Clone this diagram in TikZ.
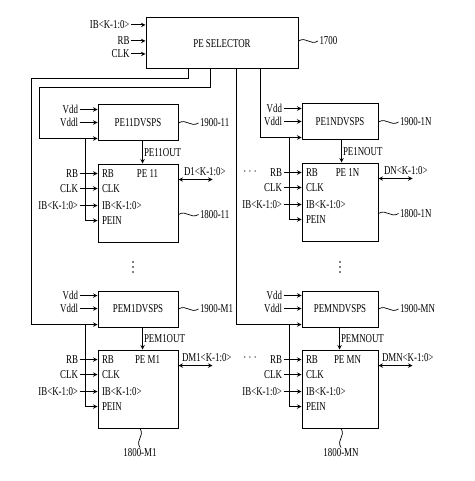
\documentclass[tikz,border=0pt]{standalone}
\usepackage{fontspec}
\setmainfont{Liberation Serif}[FakeStretch=0.74]
\usepackage{tikz}
\usetikzlibrary{arrows, positioning}
\tikzstyle{block} = [rectangle, minimum width=80pt, minimum height=36pt, inner sep=0pt, text centered, draw=black]
\tikzstyle{peblock} = [rectangle, minimum width=80pt, minimum height=78pt, inner sep=0pt, draw=black]
\tikzstyle{arrow} = [->,>=stealth]
\tikzstyle{bus} = [<->,>=stealth]
\tikzstyle{lbl} = [inner sep=1pt]
\tikzstyle{leader} = [line width=0.7pt]
\tikzset{
  font={\fontsize{12pt}{13}\selectfont}}

\begin{document}
\begin{tikzpicture}[x=1pt, y=-1pt, line width=1pt]
    \useasboundingbox (0,0) rectangle (474,481);

    % selector
    \node (sel) [block, minimum width=152pt, minimum height=51pt] at (222,43.5) {PE SELECTOR};
    \node (selib) [lbl, anchor=east] at (131,25) {IB<K-1:0>};
    \node (selrb) [lbl, anchor=east] at (131,41) {RB};
    \node (selclk) [lbl, anchor=east] at (131,54) {CLK};
    \node (n1700) [lbl, anchor=west] at (318,41) {1700};
    \draw [arrow] (selib.east) -- (selib.east -| sel.west);
    \draw [arrow] (selrb.east) -- (selrb.east -| sel.west);
    \draw [arrow] (selclk.east) -- (selclk.east -| sel.west);
    \draw [leader] (sel.east |- n1700.west) .. controls +(8,-5) and +(-8,5) .. (n1700.west);

    % PE 11
    \node (dv11) [block] at (138,123) {PE11DVSPS};
    \node (pe11) [peblock, below=22pt of dv11] {};
    \node (t11) [lbl] at ([xshift=50pt,yshift=-10pt]pe11.north west) {PE 11};
    \node (vdd11) [lbl, anchor=east] at ([xshift=-18pt,yshift=-5pt]dv11.north west) {Vdd};
    \node (vddl11) [lbl, anchor=east] at ([xshift=-18pt,yshift=-18pt]dv11.north west) {Vddl};
    \node (rb11) [lbl, anchor=east] at ([xshift=-18pt,yshift=-10pt]pe11.north west) {RB};
    \node (clk11) [lbl, anchor=east] at ([xshift=-18pt,yshift=-25pt]pe11.north west) {CLK};
    \node (ib11) [lbl, anchor=east] at ([xshift=-18pt,yshift=-42pt]pe11.north west) {IB<K-1:0>};
    \node (irb11) [lbl, anchor=west] at ([xshift=3pt,yshift=-10pt]pe11.north west) {RB};
    \node (iclk11) [lbl, anchor=west] at ([xshift=3pt,yshift=-25pt]pe11.north west) {CLK};
    \node (iib11) [lbl, anchor=west] at ([xshift=3pt,yshift=-42pt]pe11.north west) {IB<K-1:0>};
    \node (pein11) [lbl, anchor=west] at ([xshift=3pt,yshift=-57pt]pe11.north west) {PEIN};
    \node (o11) [lbl, anchor=west] at ([xshift=45pt,yshift=-11pt]dv11.south west) {PE11OUT};
    \node (d11) [lbl, anchor=south west] at ([xshift=4pt,yshift=-14pt]pe11.north east) {D1<K-1:0>};
    \node (n1900a) [lbl, anchor=west] at ([xshift=20pt]dv11.east) {1900-11};
    \node (n1800a) [lbl, anchor=west] at ([xshift=20pt,yshift=-51pt]pe11.north east) {1800-11};
    \coordinate (d11e) at ([xshift=34pt,yshift=-16pt]pe11.north east);

    % PE 1N
    \node (dv1n) [block, minimum width=76pt] at (340,122) {PE1NDVSPS};
    \node (pe1n) [peblock, minimum width=76pt, below=22pt of dv1n] {};
    \node (t1n) [lbl] at ([xshift=46pt,yshift=-10pt]pe1n.north west) {PE 1N};
    \node (vdd1n) [lbl, anchor=east] at ([xshift=-18pt,yshift=-5pt]dv1n.north west) {Vdd};
    \node (vddl1n) [lbl, anchor=east] at ([xshift=-18pt,yshift=-18pt]dv1n.north west) {Vddl};
    \node (rb1n) [lbl, anchor=east] at ([xshift=-18pt,yshift=-10pt]pe1n.north west) {RB};
    \node (clk1n) [lbl, anchor=east] at ([xshift=-18pt,yshift=-25pt]pe1n.north west) {CLK};
    \node (ib1n) [lbl, anchor=east] at ([xshift=-18pt,yshift=-42pt]pe1n.north west) {IB<K-1:0>};
    \node (irb1n) [lbl, anchor=west] at ([xshift=3pt,yshift=-10pt]pe1n.north west) {RB};
    \node (iclk1n) [lbl, anchor=west] at ([xshift=3pt,yshift=-25pt]pe1n.north west) {CLK};
    \node (iib1n) [lbl, anchor=west] at ([xshift=3pt,yshift=-42pt]pe1n.north west) {IB<K-1:0>};
    \node (pein1n) [lbl, anchor=west] at ([xshift=3pt,yshift=-57pt]pe1n.north west) {PEIN};
    \node (o1n) [lbl, anchor=west] at ([xshift=40pt,yshift=-11pt]dv1n.south west) {PE1NOUT};
    \node (d1n) [lbl, anchor=south west] at ([xshift=4pt,yshift=-14pt]pe1n.north east) {DN<K-1:0>};
    \node (n1900b) [lbl, anchor=west] at ([xshift=20pt]dv1n.east) {1900-1N};
    \node (n1800b) [lbl, anchor=west] at ([xshift=20pt,yshift=-51pt]pe1n.north east) {1800-1N};
    \coordinate (d1ne) at ([xshift=34pt,yshift=-16pt]pe1n.north east);
    \node (hdots1) at (250,172) {$\cdots$};

    % PE M1
    \node (dvm1) [block] at (138,309) {PEM1DVSPS};
    \node (pem1) [peblock, below=22pt of dvm1] {};
    \node (tm1) [lbl] at ([xshift=50pt,yshift=-10pt]pem1.north west) {PE M1};
    \node (vddm1) [lbl, anchor=east] at ([xshift=-18pt,yshift=-5pt]dvm1.north west) {Vdd};
    \node (vddlm1) [lbl, anchor=east] at ([xshift=-18pt,yshift=-18pt]dvm1.north west) {Vddl};
    \node (rbm1) [lbl, anchor=east] at ([xshift=-18pt,yshift=-10pt]pem1.north west) {RB};
    \node (clkm1) [lbl, anchor=east] at ([xshift=-18pt,yshift=-25pt]pem1.north west) {CLK};
    \node (ibm1) [lbl, anchor=east] at ([xshift=-18pt,yshift=-42pt]pem1.north west) {IB<K-1:0>};
    \node (irbm1) [lbl, anchor=west] at ([xshift=3pt,yshift=-10pt]pem1.north west) {RB};
    \node (iclkm1) [lbl, anchor=west] at ([xshift=3pt,yshift=-25pt]pem1.north west) {CLK};
    \node (iibm1) [lbl, anchor=west] at ([xshift=3pt,yshift=-42pt]pem1.north west) {IB<K-1:0>};
    \node (peinm1) [lbl, anchor=west] at ([xshift=3pt,yshift=-57pt]pem1.north west) {PEIN};
    \node (om1) [lbl, anchor=west] at ([xshift=45pt,yshift=-11pt]dvm1.south west) {PEM1OUT};
    \node (dm1) [lbl, anchor=south west] at ([xshift=2pt,yshift=-14pt]pem1.north east) {DM1<K-1:0>};
    \node (n1900c) [lbl, anchor=west] at ([xshift=20pt]dvm1.east) {1900-M1};
    \node (n1800c) [lbl, anchor=north] at ([xshift=2pt,yshift=-19pt]pem1.south) {1800-M1};
    \coordinate (dm1e) at ([xshift=34pt,yshift=-16pt]pem1.north east);
    \fill (133,262) circle (0.9pt) (133,267) circle (0.9pt) (133,272) circle (0.9pt);

    % PE MN
    \node (dvmn) [block, minimum width=76pt] at (340,309) {PEMNDVSPS};
    \node (pemn) [peblock, minimum width=76pt, below=22pt of dvmn] {};
    \node (tmn) [lbl] at ([xshift=46pt,yshift=-10pt]pemn.north west) {PE MN};
    \node (vddmn) [lbl, anchor=east] at ([xshift=-18pt,yshift=-5pt]dvmn.north west) {Vdd};
    \node (vddlmn) [lbl, anchor=east] at ([xshift=-18pt,yshift=-18pt]dvmn.north west) {Vddl};
    \node (rbmn) [lbl, anchor=east] at ([xshift=-18pt,yshift=-10pt]pemn.north west) {RB};
    \node (clkmn) [lbl, anchor=east] at ([xshift=-18pt,yshift=-25pt]pemn.north west) {CLK};
    \node (ibmn) [lbl, anchor=east] at ([xshift=-18pt,yshift=-42pt]pemn.north west) {IB<K-1:0>};
    \node (irbmn) [lbl, anchor=west] at ([xshift=3pt,yshift=-10pt]pemn.north west) {RB};
    \node (iclkmn) [lbl, anchor=west] at ([xshift=3pt,yshift=-25pt]pemn.north west) {CLK};
    \node (iibmn) [lbl, anchor=west] at ([xshift=3pt,yshift=-42pt]pemn.north west) {IB<K-1:0>};
    \node (peinmn) [lbl, anchor=west] at ([xshift=3pt,yshift=-57pt]pemn.north west) {PEIN};
    \node (omn) [lbl, anchor=west] at ([xshift=38pt,yshift=-11pt]dvmn.south west) {PEMNOUT};
    \node (dmn) [lbl, anchor=south west] at ([xshift=2pt,yshift=-14pt]pemn.north east) {DMN<K-1:0>};
    \node (n1900d) [lbl, anchor=west] at ([xshift=20pt]dvmn.east) {1900-MN};
    \node (n1800d) [lbl, anchor=north] at ([xshift=1pt,yshift=-19pt]pemn.south) {1800-MN};
    \coordinate (dmne) at ([xshift=34pt,yshift=-16pt]pemn.north east);
    \node (hdots2) at (250,358) {$\cdots$};
    \fill (340,262) circle (0.9pt) (340,267) circle (0.9pt) (340,272) circle (0.9pt);

    % selector outputs
    \coordinate (railm1) at (31,79);
    \coordinate (rail11) at (39,88);
    \draw [arrow] ([xshift=43pt]sel.south west) |- (railm1) |- ([yshift=3pt]dvm1.south west);
    \draw [arrow] ([xshift=65pt]sel.south west) |- (rail11) |- ([yshift=3pt]dv11.south west);
    \draw [arrow] ([xshift=91pt]sel.south west) |- ([yshift=3pt]dvmn.south west);
    \draw [arrow] ([xshift=115pt]sel.south west) |- ([yshift=3pt]dv1n.south west);

    % PEIN taps
    \draw [arrow] ([xshift=-12pt,yshift=3pt]dv11.south west) |- (pein11.west -| pe11.west);
    \draw [arrow] ([xshift=-12pt,yshift=3pt]dv1n.south west) |- (pein1n.west -| pe1n.west);
    \draw [arrow] ([xshift=-12pt,yshift=3pt]dvm1.south west) |- (peinm1.west -| pem1.west);
    \draw [arrow] ([xshift=-12pt,yshift=3pt]dvmn.south west) |- (peinmn.west -| pemn.west);

    % inputs
    \draw [arrow] (vdd11.east) -- (vdd11.east -| dv11.west);
    \draw [arrow] (vddl11.east) -- (vddl11.east -| dv11.west);
    \draw [arrow] (rb11.east) -- (rb11.east -| pe11.west);
    \draw [arrow] (clk11.east) -- (clk11.east -| pe11.west);
    \draw [arrow] (ib11.east) -- (ib11.east -| pe11.west);
    \draw [arrow] (vdd1n.east) -- (vdd1n.east -| dv1n.west);
    \draw [arrow] (vddl1n.east) -- (vddl1n.east -| dv1n.west);
    \draw [arrow] (rb1n.east) -- (rb1n.east -| pe1n.west);
    \draw [arrow] (clk1n.east) -- (clk1n.east -| pe1n.west);
    \draw [arrow] (ib1n.east) -- (ib1n.east -| pe1n.west);
    \draw [arrow] (vddm1.east) -- (vddm1.east -| dvm1.west);
    \draw [arrow] (vddlm1.east) -- (vddlm1.east -| dvm1.west);
    \draw [arrow] (rbm1.east) -- (rbm1.east -| pem1.west);
    \draw [arrow] (clkm1.east) -- (clkm1.east -| pem1.west);
    \draw [arrow] (ibm1.east) -- (ibm1.east -| pem1.west);
    \draw [arrow] (vddmn.east) -- (vddmn.east -| dvmn.west);
    \draw [arrow] (vddlmn.east) -- (vddlmn.east -| dvmn.west);
    \draw [arrow] (rbmn.east) -- (rbmn.east -| pemn.west);
    \draw [arrow] (clkmn.east) -- (clkmn.east -| pemn.west);
    \draw [arrow] (ibmn.east) -- (ibmn.east -| pemn.west);

    % outputs and buses
    \draw [arrow] ([xshift=45pt]dv11.south west) -- ([xshift=45pt]pe11.north west);
    \draw [arrow] ([xshift=40pt]dv1n.south west) -- ([xshift=40pt]pe1n.north west);
    \draw [arrow] ([xshift=45pt]dvm1.south west) -- ([xshift=45pt]pem1.north west);
    \draw [arrow] ([xshift=38pt]dvmn.south west) -- ([xshift=38pt]pemn.north west);
    \draw [bus] (d11e -| pe11.east) -- (d11e);
    \draw [bus] (d1ne -| pe1n.east) -- (d1ne);
    \draw [bus] (dm1e -| pem1.east) -- (dm1e);
    \draw [bus] (dmne -| pemn.east) -- (dmne);

    % reference leaders
    \draw [leader] (dv11.east) .. controls +(8,-5) and +(-8,5) .. (n1900a.west);
    \draw [leader] (pe11.east |- n1800a.west) .. controls +(8,-5) and +(-8,5) .. (n1800a.west);
    \draw [leader] (dv1n.east) .. controls +(8,-5) and +(-8,5) .. (n1900b.west);
    \draw [leader] (pe1n.east |- n1800b.west) .. controls +(8,-5) and +(-8,5) .. (n1800b.west);
    \draw [leader] (dvm1.east) .. controls +(8,-5) and +(-8,5) .. (n1900c.west);
    \draw [leader] ([xshift=2pt]pem1.south) .. controls +(5,8) and +(-5,-8) .. (n1800c.north);
    \draw [leader] (dvmn.east) .. controls +(8,-5) and +(-8,5) .. (n1900d.west);
    \draw [leader] ([xshift=1pt]pemn.south) .. controls +(5,8) and +(-5,-8) .. (n1800d.north);
\end{tikzpicture}
\end{document}
